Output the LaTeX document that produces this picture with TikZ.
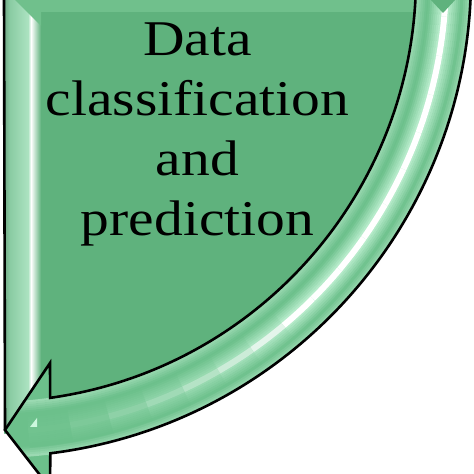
\documentclass[tikz,border=0pt]{standalone}
\usepackage{fontspec}
\setmainfont{Liberation Serif}
\usetikzlibrary{calc}

\definecolor{piegreen}{RGB}{95,178,125}
\definecolor{topgreen}{RGB}{112,192,140}
\definecolor{stripgreen}{RGB}{138,204,163}
\definecolor{bandgreen}{RGB}{108,192,139}
\definecolor{edgegreen}{RGB}{160,220,182}
\definecolor{glowgreen}{RGB}{205,248,222}

\begin{document}
\begin{tikzpicture}[x=1pt,y=1pt]
\tikzset{outline/.style = {draw=black, line width=2.6pt, line join=miter}}
\tikzset{label/.style = {font=\fontsize{50}{60}\selectfont, align=center, xscale=1.15, transform shape}}

\useasboundingbox (0,0) rectangle (474,474);
\clip (0,0) rectangle (474,474);

% centre of the quarter disc
\coordinate (C) at (-9,497);
\coordinate (tip) at (5,44);
\coordinate (barbup) at (50,111);
\coordinate (barbdown) at (50,-14);
\coordinate (topleft) at (4,480);

\def\arrowpath{($(C)+(3:425)$) arc[start angle=3, end angle=-82, radius=425]
  -- (barbup) -- (tip) -- (barbdown)
  -- ($(C)+(-82.9:480)$) arc[start angle=-82.9, end angle=3, radius=480] -- cycle}

% quarter disc
\fill[piegreen] (topleft) -- (4,40) -- ($(C)+(-82:425)$)
  arc[start angle=-82, end angle=3, radius=425] -- cycle;

% bevel on the left and top edges
\shade[left color=stripgreen!85!black, right color=stripgreen] (5,40) rectangle (10,474);
\shade[left color=stripgreen, right color=stripgreen!50!glowgreen] (10,40) rectangle (28,474);
\shade[left color=stripgreen!50!glowgreen, right color=white] (28,40) rectangle (31,474);
\shade[left color=white, right color=piegreen] (31,40) rectangle (41,474);
\fill[topgreen] (15,474) -- (430,474) -- (430,462) -- (41,462) -- (41,448) -- cycle;

\node[label] (title) at (197.5,340) {Data\\classification\\and\\prediction};

% curved arrow
\begin{scope}
\clip \arrowpath;
\fill[bandgreen] (0,0) rectangle (474,474);
\foreach \r in {426,428,...,480} {
  \pgfmathtruncatemacro\e{100*max(0,1-(\r-425)/12)+100*max(0,1-(481-\r)/10)}
  \draw[edgegreen!\e!bandgreen, line width=2.3pt]
    ($(C)+(5:\r)$) arc[start angle=5, end angle=-95, radius=\r];
}
\foreach \a in {5,0,...,-80} {
  \pgfmathsetmacro\s{\a>-45 ? 1 : max(0.05,1-(-45-\a)/36)}
  \foreach \r in {439,441,...,471} {
    \pgfmathtruncatemacro\h{100*\s*max(0,1-abs(\r-455)/17)}
    \draw[glowgreen!\h!bandgreen, line width=2.3pt]
      ($(C)+(\a:\r)$) arc[start angle=\a, end angle=\a-5.3, radius=\r];
  }
  \pgfmathtruncatemacro\k{100*\s}
  \draw[white!\k!glowgreen!\k!bandgreen, line width=6pt]
    ($(C)+(\a:455)$) arc[start angle=\a, end angle=\a-5.3, radius=455];
}
\fill[piegreen] (430,475) -- (443,461) -- (456,475) -- cycle;
\fill[glowgreen] (30,47) -- (37,56) -- (37,47) -- cycle;
\end{scope}
\draw[outline] \arrowpath;

% left edge
\draw[outline] (topleft) -- (tip);
\end{tikzpicture}
\end{document}
